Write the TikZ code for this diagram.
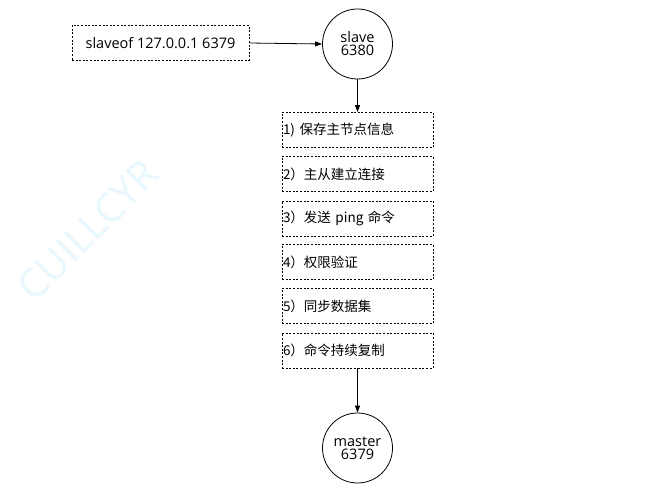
\documentclass[tikz,border=0pt]{standalone}
\usepackage{fontspec}
\setmainfont{Open Sans}
\newfontfamily\cjk{Noto Sans CJK SC}
\usetikzlibrary{arrows.meta}
\begin{document}
\begin{tikzpicture}[x=1pt,y=-1pt,
  dbox/.style={draw, line width=0.7pt, dash pattern=on 2pt off 1.6pt, minimum height=35pt, inner sep=0pt},
  stepbox/.style={dbox, minimum width=151pt, text width=149pt, align=left, font=\cjk\fontsize{13.5}{15}\selectfont},
  circ/.style={draw, circle, line width=0.8pt, minimum size=70pt, inner sep=0pt, align=center, font=\fontsize{14.5}{16}\selectfont},
  arr/.style={-{Triangle[length=7pt,width=5pt]}, line width=0.8pt}]
\useasboundingbox (0,0) rectangle (645,492);
\fill[white] (0,0) rectangle (645,492);
\node[rotate=45, text=cyan!9, font=\fontsize{40}{40}\selectfont] (wm) at (88,230) {CUILLCYR};
\node[dbox, minimum width=177pt, font=\fontsize{14.5}{16}\selectfont] (cmd) at (160.5,43) {slaveof 127.0.0.1 6379};
\node[circ] (slave) at (357.5,44) {slave\\[-3pt]6380};
\node[stepbox] (s1) at (357.5,130) {1) 保存主节点信息};
\node[stepbox] (s2) at (357.5,174) {2）主从建立连接};
\node[stepbox] (s3) at (357.5,218.5) {3）发送 ping 命令};
\node[stepbox] (s4) at (357.5,262) {4）权限验证};
\node[stepbox] (s5) at (357.5,306) {5）同步数据集};
\node[stepbox] (s6) at (357.5,350.5) {6）命令持续复制};
\node[circ] (master) at (357.5,448) {master\\[-3pt]6379};
\draw[arr] (cmd.east) -- (slave.west);
\draw[arr] (slave.south) -- (s1.north);
\draw[arr] (s6.south) -- (master.north);
\end{tikzpicture}
\end{document}
